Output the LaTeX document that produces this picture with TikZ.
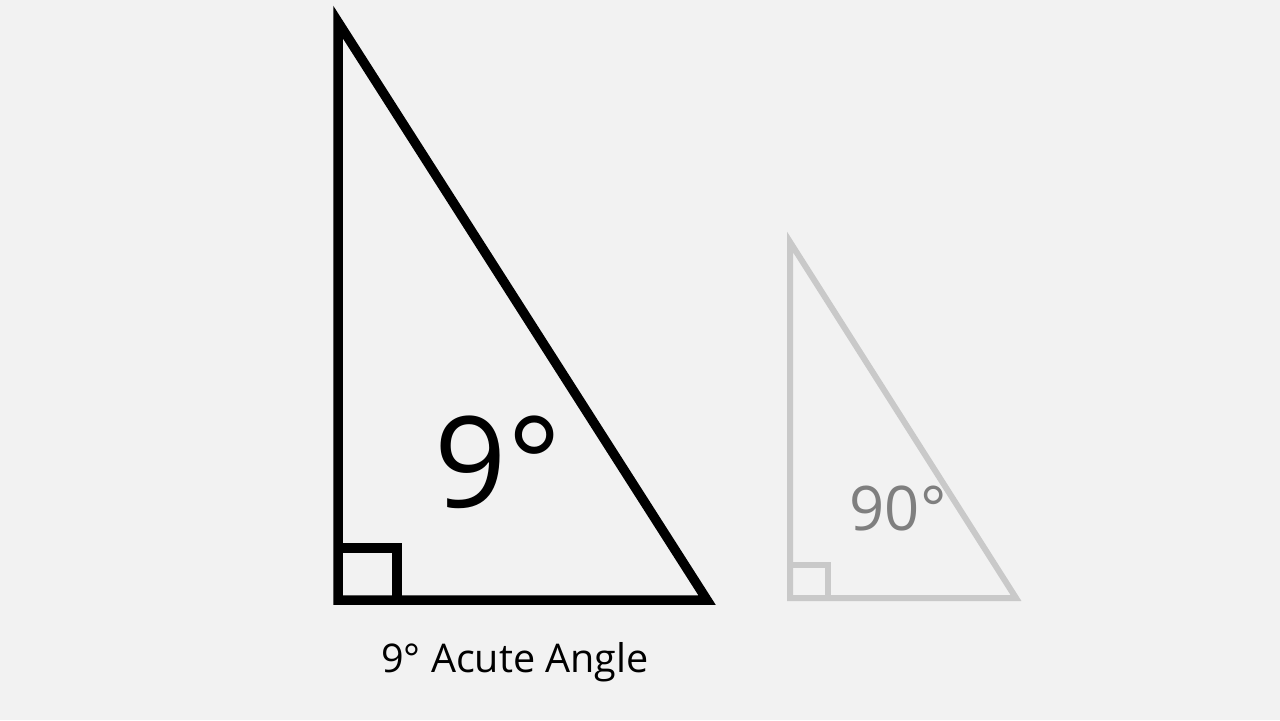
\documentclass[tikz,border=0pt]{standalone}
\usepackage{fontspec}
\setmainfont{Open Sans}
\usepackage{tikz}
\definecolor{bgcol}{HTML}{F2F2F2}
\definecolor{faint}{HTML}{C9C9C9}
\definecolor{faintText}{HTML}{7F7F7F}
\tikzstyle{bigtri} = [draw=black, line width=0.19cm, line join=miter]
\tikzstyle{smalltri} = [draw=faint, line width=0.12cm, line join=miter]
\tikzstyle{label} = [inner sep=0pt, text centered]

\begin{document}
\begin{tikzpicture}[x=0.02cm, y=-0.02cm]

\fill [bgcol] (0,0) rectangle (1280,720);

% main triangle
\coordinate (apex) at (338,22);
\coordinate (corner) at (338,600);
\coordinate (tip) at (707,600);
\draw [bigtri] (apex) -- (corner) -- (tip) -- cycle;
\draw [bigtri] (338,548) -- (397,548) -- (397,600);

\node (angle) [label, font=\fontsize{72}{76}\selectfont] at (498,462) {9°};
\node (caption) [label, font=\fontsize{22.5}{26}\selectfont, anchor=base] at (515,672) {9° Acute Angle};

% faded triangle
\coordinate (apex2) at (790,242);
\coordinate (corner2) at (790,598);
\coordinate (tip2) at (1016,598);
\draw [smalltri] (apex2) -- (corner2) -- (tip2) -- cycle;
\draw [smalltri] (790,565) -- (828,565) -- (828,598);

\node (angle2) [label, text=faintText, font=\fontsize{35}{40}\selectfont] at (898,508) {90°};

\end{tikzpicture}
\end{document}
